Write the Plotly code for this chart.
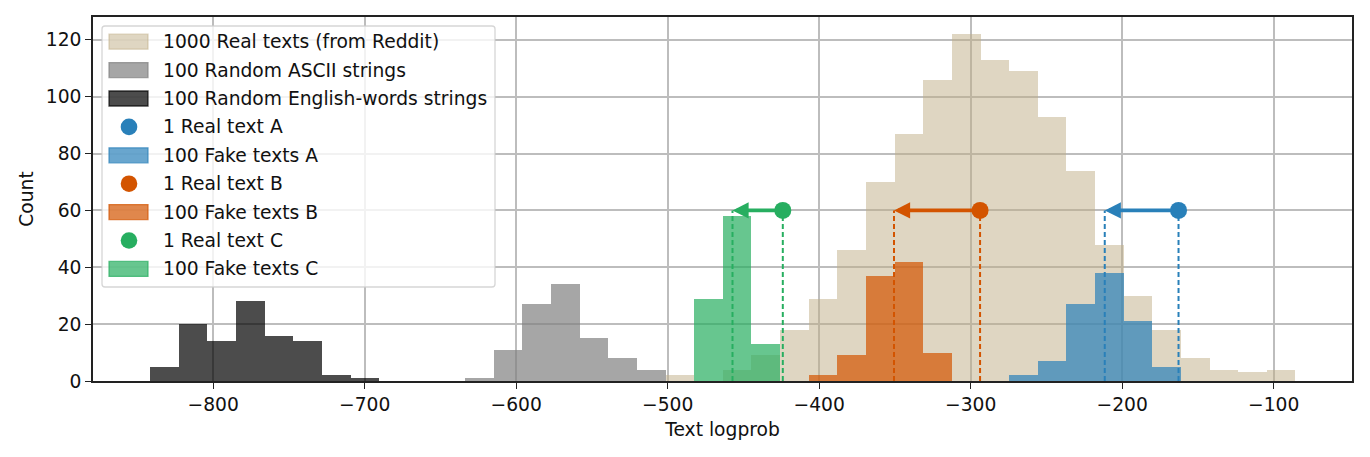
import plotly.graph_objects as go

# shared histogram bins (left edges), all counts line up with these
bin_left = [-841.6, -822.7, -803.8, -784.9, -766.0, -747.1, -728.2, -709.3, -690.4, -671.5,
            -652.6, -633.7, -614.8, -595.9, -577.0, -558.1, -539.2, -520.3, -501.4, -482.5,
            -463.6, -444.7, -425.8, -406.9, -388.0, -369.1, -350.2, -331.3, -312.4, -293.5,
            -274.6, -255.7, -236.8, -217.9, -199.0, -180.1, -161.2, -142.3, -123.4, -104.5]
BIN_WIDTH = 18.9

real_counts = [0, 0, 0, 0, 0, 0, 0, 0, 0, 0, 0, 0, 0, 0, 0, 0, 0, 0, 2, 0,
               4, 9, 18, 29, 46, 70, 87, 106, 122, 113, 109, 93, 74, 48, 30, 18, 8, 4, 3, 4]
ascii_counts = [0, 0, 0, 0, 0, 0, 0, 0, 0, 0, 0, 1, 11, 27, 34, 15, 8, 4, 0, 0,
                0, 0, 0, 0, 0, 0, 0, 0, 0, 0, 0, 0, 0, 0, 0, 0, 0, 0, 0, 0]
words_counts = [5, 20, 14, 28, 16, 14, 2, 1, 0, 0, 0, 0, 0, 0, 0, 0, 0, 0, 0, 0,
                0, 0, 0, 0, 0, 0, 0, 0, 0, 0, 0, 0, 0, 0, 0, 0, 0, 0, 0, 0]
fake_a_counts = [0, 0, 0, 0, 0, 0, 0, 0, 0, 0, 0, 0, 0, 0, 0, 0, 0, 0, 0, 0,
                 0, 0, 0, 0, 0, 0, 0, 0, 0, 0, 2, 7, 27, 38, 21, 5, 0, 0, 0, 0]
fake_b_counts = [0, 0, 0, 0, 0, 0, 0, 0, 0, 0, 0, 0, 0, 0, 0, 0, 0, 0, 0, 0,
                 0, 0, 0, 2, 9, 37, 42, 10, 0, 0, 0, 0, 0, 0, 0, 0, 0, 0, 0, 0]
fake_c_counts = [0, 0, 0, 0, 0, 0, 0, 0, 0, 0, 0, 0, 0, 0, 0, 0, 0, 0, 0, 29,
                 58, 13, 0, 0, 0, 0, 0, 0, 0, 0, 0, 0, 0, 0, 0, 0, 0, 0, 0, 0]

# real text score -> mean of its fakes
real_a, mean_a = -162.8, -211.5
real_b, mean_b = -293.8, -350.6
real_c, mean_c = -424.0, -457.2
marker_height = 60

x_ticks = [-800, -700, -600, -500, -400, -300, -200, -100]
y_ticks = [0, 20, 40, 60, 80, 100, 120]

BLUE = '#2980b9'
ORANGE = '#d35400'
GREEN = '#27ae60'

WIDTH, HEIGHT = 1370, 457
LEFT, RIGHT, TOP, BOTTOM = 93, 18, 17, 76
FONT = 'DejaVu Sans'
FONT_SIZE = 18.7


def px_x(px):
    return (px - LEFT) / (WIDTH - LEFT - RIGHT)


def px_y(px):
    return 1 - (px - TOP) / (HEIGHT - TOP - BOTTOM)


fig = go.Figure()

# histograms
hist_series = [
    ('1000 Real texts (from Reddit)', real_counts, 'rgba(192,174,134,0.5)'),
    ('100 Random ASCII strings', ascii_counts, 'rgba(128,128,128,0.7)'),
    ('100 Random English-words strings', words_counts, 'rgba(0,0,0,0.7)'),
    ('100 Fake texts A', fake_a_counts, 'rgba(41,128,185,0.7)'),
    ('100 Fake texts B', fake_b_counts, 'rgba(211,84,0,0.7)'),
    ('100 Fake texts C', fake_c_counts, 'rgba(39,174,96,0.7)'),
]
for name, counts, color in hist_series:
    fig.add_trace(go.Bar(x=bin_left, y=counts, width=BIN_WIDTH, offset=0, name=name,
                         marker=dict(color=color, line_width=0), showlegend=False))

# dashed drop lines, dots and arrows
for label, real, mean, color in [('A', real_a, mean_a, BLUE),
                                 ('B', real_b, mean_b, ORANGE),
                                 ('C', real_c, mean_c, GREEN)]:
    for value in (real, mean):
        fig.add_trace(go.Scatter(x=[value, value], y=[0, marker_height], mode='lines',
                                 line=dict(color=color, width=2, dash='5px,3px'),
                                 showlegend=False, hoverinfo='skip'))
    fig.add_annotation(x=mean, y=marker_height, ax=real, ay=marker_height,
                       xref='x', yref='y', axref='x', ayref='y', text='',
                       showarrow=True, arrowhead=2, arrowsize=0.85, arrowwidth=3.8,
                       arrowcolor=color, standoff=0, startstandoff=0)
    fig.add_trace(go.Scatter(x=[real], y=[marker_height], mode='markers', name=f'1 Real text {label}',
                             marker=dict(color=color, size=17), showlegend=False))

# legend drawn by hand so the swatches get the wide patch look
legend_rows = [
    ('1000 Real texts (from Reddit)', 'patch', 'rgba(192,174,134,0.5)'),
    ('100 Random ASCII strings', 'patch', 'rgba(128,128,128,0.7)'),
    ('100 Random English-words strings', 'patch', 'rgba(0,0,0,0.7)'),
    ('1 Real text A', 'dot', BLUE),
    ('100 Fake texts A', 'patch', 'rgba(41,128,185,0.7)'),
    ('1 Real text B', 'dot', ORANGE),
    ('100 Fake texts B', 'patch', 'rgba(211,84,0,0.7)'),
    ('1 Real text C', 'dot', GREEN),
    ('100 Fake texts C', 'patch', 'rgba(39,174,96,0.7)'),
]

x0, x1, y0, y1, r = 102, 495, 26, 287, 3
box = (f'M {px_x(x0 + r)} {px_y(y0)} L {px_x(x1 - r)} {px_y(y0)} '
       f'Q {px_x(x1)} {px_y(y0)} {px_x(x1)} {px_y(y0 + r)} L {px_x(x1)} {px_y(y1 - r)} '
       f'Q {px_x(x1)} {px_y(y1)} {px_x(x1 - r)} {px_y(y1)} L {px_x(x0 + r)} {px_y(y1)} '
       f'Q {px_x(x0)} {px_y(y1)} {px_x(x0)} {px_y(y1 - r)} L {px_x(x0)} {px_y(y0 + r)} '
       f'Q {px_x(x0)} {px_y(y0)} {px_x(x0 + r)} {px_y(y0)} Z')
fig.add_shape(type='path', path=box, xref='paper', yref='paper', layer='above',
              fillcolor='rgba(255,255,255,0.8)', line=dict(color='rgba(204,204,204,0.8)', width=1.3))

for i, (text, kind, color) in enumerate(legend_rows):
    row_y = 41.7 + i * 28.4
    if kind == 'patch':
        fig.add_shape(type='rect', xref='paper', yref='paper', layer='above',
                      x0=px_x(109), x1=px_x(148), y0=px_y(row_y - 7.5), y1=px_y(row_y + 7.5),
                      fillcolor=color, line=dict(color=color, width=1.3))
    else:
        fig.add_shape(type='circle', xref='paper', yref='paper', layer='above',
                      xsizemode='pixel', ysizemode='pixel',
                      xanchor=px_x(129), yanchor=px_y(row_y),
                      x0=-8.3, x1=8.3, y0=-8.3, y1=8.3,
                      fillcolor=color, line_width=0)
    fig.add_annotation(x=px_x(161), y=px_y(row_y), xref='paper', yref='paper', text=text,
                       showarrow=False, xanchor='left', yanchor='middle', align='left',
                       font=dict(family=FONT, size=FONT_SIZE, color='#111111'))

axis_style = dict(showline=True, linecolor='#222222', linewidth=1.5, mirror=True,
                  showgrid=True, gridcolor='#bdbdbd', gridwidth=1.6, zeroline=False,
                  ticks='outside', ticklen=6, tickwidth=1.3, tickcolor='#222222',
                  tickfont=dict(family=FONT, size=FONT_SIZE, color='#111111'))

fig.update_xaxes(range=[-879.3, -48.3], tickvals=x_ticks,
                 title=dict(text='Text logprob', standoff=9,
                            font=dict(family=FONT, size=FONT_SIZE, color='#111111')),
                 **axis_style)
fig.update_yaxes(range=[0, 128], tickvals=y_ticks,
                 title=dict(text='Count', standoff=7,
                            font=dict(family=FONT, size=FONT_SIZE, color='#111111')),
                 **axis_style)

fig.update_layout(
    width=WIDTH,
    height=HEIGHT,
    barmode='overlay',
    bargap=0,
    showlegend=False,
    plot_bgcolor='white',
    paper_bgcolor='white',
    margin=dict(l=LEFT, r=RIGHT, t=TOP, b=BOTTOM, pad=0),
)

fig.write_html('out.html', config={'displayModeBar': False},
               post_script="document.body.style.margin = '0';")
